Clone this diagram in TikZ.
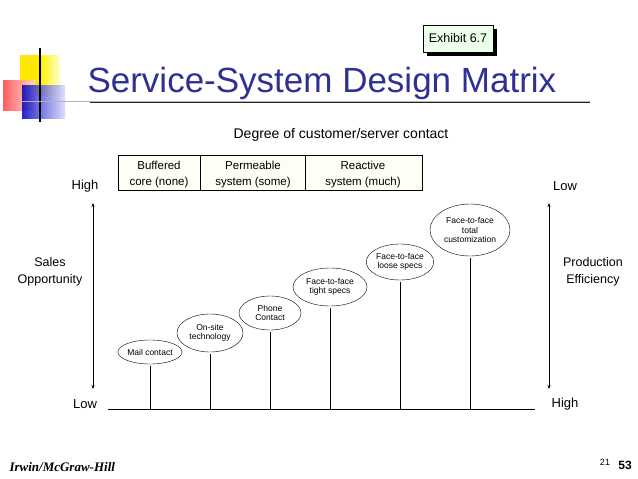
\documentclass[tikz,border=0pt]{standalone}
\usepackage{fontspec}
\setmainfont{Liberation Sans}
\newfontfamily\footfont{Liberation Serif}
\usetikzlibrary{shapes.geometric,arrows.meta}
\definecolor{titleblue}{HTML}{2E3192}
\begin{document}
\begin{tikzpicture}[x=1pt,y=-1pt,
 oval/.style={draw,ellipse,inner sep=0pt,fill=white,font=\fontsize{8.5}{9.5}\selectfont,align=center},
 lbl/.style={font=\fontsize{13}{15}\selectfont,align=center},
 cell/.style={align=center,font=\fontsize{11.5}{16}\selectfont},
 stem/.style={line width=0.7pt}]
\useasboundingbox (0,0) rectangle (638,479);
% logo
\fill[yellow!90!orange] (20,55) rectangle (60,95);
\shade[left color=yellow!90!orange, right color=yellow!20] (40,55) rectangle (60,95);
\shade[left color=red!75, right color=red!15, opacity=0.85] (3,80) rectangle (35,110);
\shade[left color=blue!75!black, right color=blue!15, opacity=0.85] (22,85) rectangle (65,118);
\draw[line width=1.2pt] (40,48) -- (40,122);
\draw[gray!60, line width=1pt] (14,101) -- (590,101);
\draw[gray!30!black, line width=0.8pt] (90,102) -- (590,102);
\node[anchor=west,text=titleblue,font=\fontsize{35}{38}\selectfont] (title) at (84,83) {Service-System Design Matrix};
% exhibit
\fill[black] (427,29) rectangle (497,56);
\node[draw,fill=green!8,minimum width=70,minimum height=27,inner sep=0,font=\fontsize{12.5}{14}\selectfont] (ex) at (458,38.5) {Exhibit 6.7};
\node[font=\fontsize{14}{16}\selectfont] (deg) at (341,135) {Degree of customer/server contact};
% table
\draw[fill=yellow!4] (118,155) rectangle (422,190);
\draw (200,155) -- (200,190) (305,155) -- (305,190);
\node[cell] (b1) at (159,175) {Buffered\\core (none)};
\node[cell] (b2) at (253,175) {Permeable\\system (some)};
\node[cell] (b3) at (363,175) {Reactive\\system (much)};
% axes labels
\node[lbl] (hl) at (85,186) {High};
\node[lbl] (ll) at (85,404) {Low};
\node[lbl] (lr) at (565,186) {Low};
\node[lbl] (hr) at (565,404) {High};
\node[lbl,font=\fontsize{12.5}{17}\selectfont] (so) at (50,272) {Sales\\Opportunity};
\node[lbl,font=\fontsize{12.5}{17}\selectfont] (pe) at (593,272) {Production\\Efficiency};
\coordinate (la) at (93,203); \coordinate (lb) at (93,389);
\coordinate (ra) at (549,203); \coordinate (rb) at (549,389);
\draw[{Stealth[length=4pt]}-{Stealth[length=4pt]}] (la) -- (lb);
\draw[{Stealth[length=4pt]}-{Stealth[length=4pt]}] (ra) -- (rb);
\coordinate (bl) at (108,409); \coordinate (br) at (535,409);
\draw[stem] (bl) -- (br);
% ovals
\node[oval,minimum width=62,minimum height=24] (e1) at (150,352) {Mail contact};
\node[oval,minimum width=66,minimum height=38] (e2) at (210,333) {On-site\\technology};
\node[oval,minimum width=62,minimum height=34] (e3) at (270,313) {Phone\\Contact};
\node[oval,minimum width=74,minimum height=38] (e4) at (330,287) {Face-to-face\\tight specs};
\node[oval,minimum width=66,minimum height=36] (e5) at (400,262) {Face-to-face\\loose specs};
\node[oval,minimum width=80,minimum height=52] (e6) at (470,230) {Face-to-face\\total\\customization};
\foreach \e/\x in {e1/150,e2/210,e3/270,e4/330,e5/400,e6/470}{
 \coordinate (\e b) at (\x,409);
 \draw[stem] ([yshift=-2pt]\e.south) -- (\e b);}
% footer
\node[anchor=west,font=\footfont\bfseries\itshape\fontsize{13}{15}\selectfont] (ft) at (6,467) {Irwin/McGraw-Hill};
\node[font=\fontsize{9}{10}\selectfont] (p1) at (605,462) {21};
\node[font=\bfseries\fontsize{12}{13}\selectfont] (p2) at (625,465) {53};
\end{tikzpicture}
\end{document}
